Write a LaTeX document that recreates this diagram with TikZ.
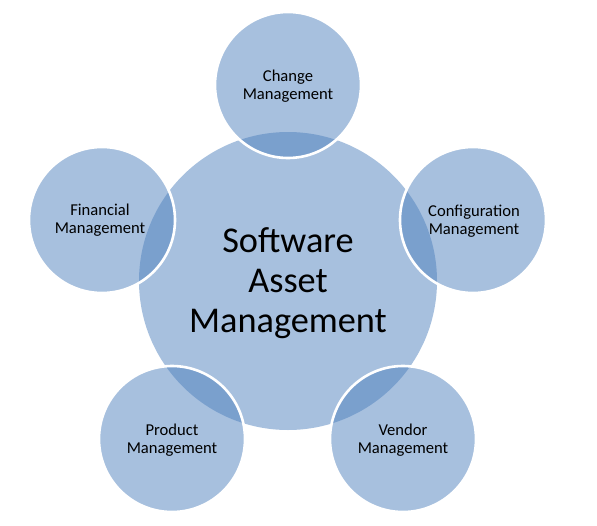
\documentclass[tikz,border=0pt]{standalone}
\usepackage{fontspec}
\setmainfont{Carlito}
\begin{document}
\begin{tikzpicture}[x=1pt,y=-1pt,
  blob/.style={circle,fill={rgb,255:red,79;green,129;blue,189},fill opacity=0.5,inner sep=0pt},
  sat/.style={blob,draw=white,draw opacity=1,line width=2.6pt,minimum size=146pt},
  hub/.style={blob,minimum size=298pt},
  small/.style={font=\fontsize{16.6}{17.5}\selectfont,align=center,text=black,anchor=base,inner sep=0pt},
  big/.style={font=\fontsize{36.3}{40}\selectfont,align=center,text=black,anchor=base,inner sep=0pt}]
\useasboundingbox (0,0) rectangle (597,525);
\node[hub] (hub) at (288,281) {};
\node[sat] (chg) at (288,85) {};
\node[sat] (cfg) at (473,220) {};
\node[sat] (ven) at (403,439) {};
\node[sat] (prd) at (172,439) {};
\node[sat] (fin) at (102,220) {};
\node[big] (tsam) at (288,332) {Software\\Asset\\Management};
\node[small] (tchg) at (288,99) {Change\\Management};
\node[small] (tcfg) at (474,234) {Configuration\\Management};
\node[small] (tfin) at (100,233) {Financial\\Management};
\node[small] (tprd) at (172,453) {Product\\Management};
\node[small] (tven) at (403,453) {Vendor\\Management};
\end{tikzpicture}
\end{document}
